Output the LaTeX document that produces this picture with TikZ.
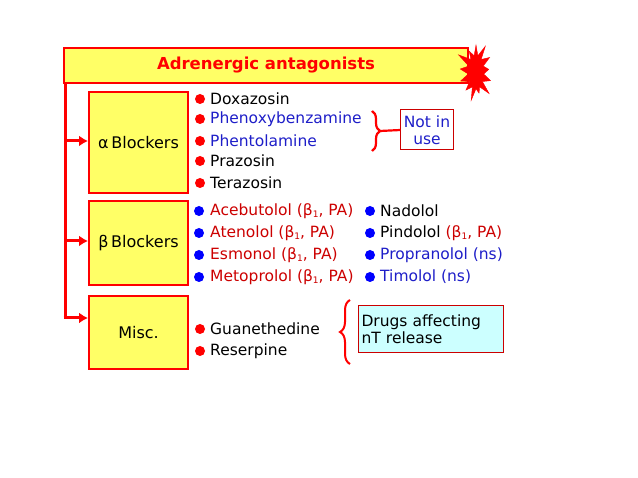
\documentclass[tikz,border=0pt]{standalone}
\usepackage{fontspec}
\setmainfont{DejaVu Sans}
\usetikzlibrary{shapes.symbols,decorations.pathreplacing,arrows.meta}
\definecolor{boxyellow}{RGB}{255,255,102}
\definecolor{drugred}{RGB}{204,0,0}
\definecolor{drugblue}{RGB}{30,30,200}
\definecolor{paleblue}{RGB}{204,255,255}
\newcommand{\bone}{β\raisebox{-2.5pt}{\fontsize{9}{9}\selectfont 1}}
\tikzset{
  groupbox/.style={draw=red,line width=2pt,fill=boxyellow,minimum width=99pt,anchor=north west,font=\fontsize{16}{18}\selectfont},
  drug/.style={anchor=west,inner sep=0pt,font=\fontsize{15.5}{17}\selectfont},
  bullet/.style={circle,fill=#1,inner sep=0pt,minimum size=10pt},
  feed/.style={red,line width=3pt,-{Latex[length=9pt,width=11pt]}},
  note/.style={draw=drugred,line width=1pt,align=left,inner sep=2pt,font=\fontsize{15.5}{17}\selectfont},
}
\begin{document}
\begin{tikzpicture}[x=1pt,y=-1pt]
\useasboundingbox (0,0) rectangle (638,478);

% title bar
\node (title) [draw=red,line width=2pt,fill=boxyellow,minimum width=404pt,minimum height=35pt,anchor=north west,
  text=red,font=\fontsize{16.5}{18}\selectfont\bfseries] at (63,47) {Adrenergic antagonists};
\node (burst) [starburst,fill=red,draw=red,minimum width=44pt,minimum height=62pt,inner sep=0pt,starburst points=13] at (476,72) {};

% group boxes
\node (alpha) [groupbox,minimum height=101pt] at (88,91) {α\,Blockers};
\node (beta) [groupbox,minimum height=84pt] at (88,200) {β\,Blockers};
\node (misc) [groupbox,minimum height=73pt] at (88,295) {Misc.};

\coordinate (trunk) at (65,82);
\draw[red,line width=3pt] (trunk) -- (65,319.5);
\draw[feed] (65,141) -- (alpha.west |- 0,141);
\draw[feed] (65,241) -- (beta.west |- 0,241);
\draw[feed] (63.5,318) -- (misc.west |- 0,318);

% alpha drugs
\foreach \y/\name/\col in {99/Doxazosin/black,119/Phenoxybenzamine/drugblue,141/Phentolamine/drugblue,161/Prazosin/black,183/Terazosin/black}{
  \node[bullet=red] (a\y) at (200,\y) {};
  \node[drug,text=\col] at (210,\y) {\name};
}
\node (notuse) [note,draw=red!80!black,text=drugblue,align=center,inner sep=3pt,minimum width=52pt,minimum height=40pt] at (427,130) {Not in\\use};
\draw[decorate,decoration={brace,amplitude=8pt},red,line width=2.2pt] (372,111) -- (372,151);
\draw[red,line width=2.2pt] (380,131) -- (notuse.west);

% beta drugs
\foreach \y/\name in {211/Acebutolol,233/Atenolol,255/Esmonol,277/Metoprolol}{
  \node[bullet=blue] (b\y) at (199,\y) {};
  \node[drug,text=drugred] at (210,\y) {\name\ (\bone, PA)};
}
\node[bullet=blue] (c211) at (370,211) {};
\node[drug] at (380,211) {Nadolol};
\node[bullet=blue] (c233) at (370,233) {};
\node[drug] at (380,233) {Pindolol \textcolor{drugred}{(\bone, PA)}};
\node[bullet=blue] (c255) at (370,255) {};
\node[drug,text=drugblue] at (380,255) {Propranolol (ns)};
\node[bullet=blue] (c277) at (370,277) {};
\node[drug,text=drugblue] at (380,277) {Timolol (ns)};

% misc drugs
\node[bullet=red] (m329) at (200,329) {};
\node[drug] at (210,329) {Guanethedine};
\node[bullet=red] (m351) at (200,351) {};
\node[drug] at (210,351) {Reserpine};
\draw[decorate,decoration={brace,amplitude=10pt,mirror},red,line width=2pt] (350,300) -- (350,364);
\node (release) [note,fill=paleblue,anchor=north west,text width=139pt,minimum height=47pt,inner sep=3pt] at (358,305) {Drugs affecting\\nT release};
\end{tikzpicture}
\end{document}
